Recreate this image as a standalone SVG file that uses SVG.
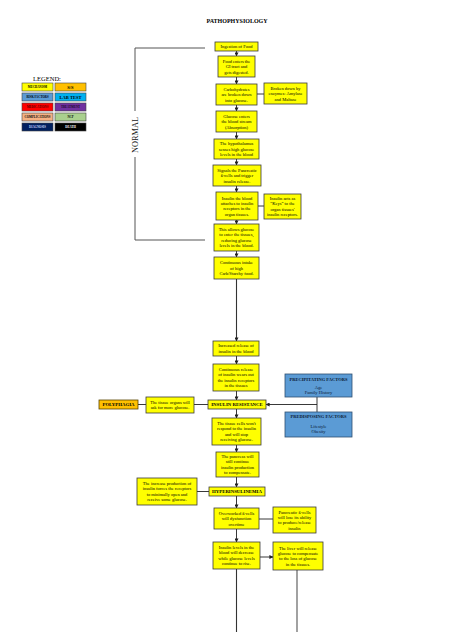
<svg xmlns="http://www.w3.org/2000/svg" width="474" height="632" viewBox="0 0 474 632">
<style>
text{font-family:"Liberation Serif","Times New Roman",serif;fill:#000}
.box rect{fill:#FFFF00;stroke:#3a3a3a;stroke-width:0.8}
.box text{font-size:4.5px;text-anchor:middle}
.blue rect{fill:#5B9BD5;stroke:#2f4f70;stroke-width:0.8}
.blue text{font-size:4.5px;text-anchor:middle;fill:#0b1a33}
.hd{font-weight:bold;font-size:4.6px}
.bold text{font-weight:bold;font-size:4.8px}
.orange rect{fill:#FFC000;stroke:#5a4500;stroke-width:0.8}
.conn line,.conn path{stroke:#222;stroke-width:0.9;fill:none}
.br{stroke:#555;stroke-width:1;fill:none}
.lg rect{stroke:#444;stroke-width:0.6}
.lg text{font-size:3px;font-weight:bold;text-anchor:middle}
</style>
<defs>
<marker id="ah" markerWidth="4" markerHeight="4" refX="3.6" refY="2" orient="auto" markerUnits="userSpaceOnUse">
<path d="M0,0 L4,2 L0,4 Z" fill="#222"/>
</marker>
</defs>

<text x="237" y="23" font-size="6" font-weight="bold" text-anchor="middle">PATHOPHYSIOLOGY</text>

<g id="legend" class="lg">
<text x="47" y="81" font-size="6.5" font-weight="normal" style="font-size:6.5px;font-weight:normal">LEGEND:</text>
<rect x="22" y="83" width="31" height="8" fill="#FFFF00"/><text x="37.5" y="88.2">MECHANISM</text>
<rect x="55" y="83" width="31" height="8" fill="#FFC000"/><text x="70.5" y="88.6" style="font-size:4.5px">S/S</text>
<rect x="22" y="93" width="31" height="8" fill="#5B9BD5"/><text x="37.5" y="98.2">RISK FACTORS</text>
<rect x="55" y="93" width="31" height="8" fill="#00B0F0"/><text x="70.5" y="98.6" style="font-size:4.5px">LAB TEST</text>
<rect x="22" y="103" width="31" height="8" fill="#FF0000"/><text x="37.5" y="108.2" style="fill:#5a0000">MEDICATIONS</text>
<rect x="55" y="103" width="31" height="8" fill="#7030A0"/><text x="70.5" y="108.2" style="fill:#1a0a2a">TREATMENT</text>
<rect x="22" y="113" width="31" height="8" fill="#F4B183"/><text x="37.5" y="118.2">COMPLICATIONS</text>
<rect x="55" y="113" width="31" height="8" fill="#A9D08E"/><text x="70.5" y="118.2">NCP</text>
<rect x="22" y="123" width="31" height="8" fill="#002060"/><text x="37.5" y="128.2" style="fill:#cfd8ff">DIAGNOSIS</text>
<rect x="55" y="123" width="31" height="8" fill="#000000"/><text x="70.5" y="128.2" style="fill:#ffffff">DEATH</text>
</g>

<g id="bracket">
<path class="br" d="M205,48 H135 V111 M135,157 V240 H205"/>
<text x="138" y="135" font-size="8.3" text-anchor="middle" transform="rotate(-90 138 135)" style="fill:#222">NORMAL</text>
</g>

<g id="connectors" class="conn">
<line x1="236.5" y1="51" x2="236.5" y2="56" marker-end="url(#ah)"/>
<line x1="236.5" y1="77" x2="236.5" y2="84" marker-end="url(#ah)"/>
<line x1="257" y1="94" x2="264" y2="94"/>
<line x1="236.5" y1="105" x2="236.5" y2="111" marker-end="url(#ah)"/>
<line x1="236.5" y1="132" x2="236.5" y2="139" marker-end="url(#ah)"/>
<line x1="236.5" y1="159" x2="236.5" y2="165" marker-end="url(#ah)"/>
<line x1="236.5" y1="186" x2="236.5" y2="192" marker-end="url(#ah)"/>
<line x1="258" y1="206" x2="264" y2="206"/>
<line x1="236.5" y1="220" x2="236.5" y2="224" marker-end="url(#ah)"/>
<line x1="236.5" y1="251" x2="236.5" y2="257" marker-end="url(#ah)"/>
<line x1="236.5" y1="279" x2="236.5" y2="341" marker-end="url(#ah)" style="stroke:#333;stroke-width:1.1"/>
<line x1="236.5" y1="356" x2="236.5" y2="364" marker-end="url(#ah)"/>
<line x1="236.5" y1="391" x2="236.5" y2="400" marker-end="url(#ah)"/>
<line x1="317" y1="397" x2="317" y2="412"/>
<line x1="317" y1="404.5" x2="266" y2="404.5" marker-end="url(#ah)"/>
<line x1="208" y1="404.5" x2="194" y2="404.5"/>
<line x1="146" y1="404.5" x2="138" y2="404.5"/>
<line x1="236.5" y1="409" x2="236.5" y2="418" marker-end="url(#ah)"/>
<line x1="236.5" y1="445" x2="236.5" y2="452" marker-end="url(#ah)"/>
<line x1="236.5" y1="477" x2="236.5" y2="487" marker-end="url(#ah)"/>
<line x1="197" y1="491.5" x2="209" y2="491.5"/>
<line x1="236.5" y1="496" x2="236.5" y2="508" marker-end="url(#ah)"/>
<line x1="259" y1="519" x2="273" y2="519"/>
<line x1="236.5" y1="529" x2="236.5" y2="542" marker-end="url(#ah)"/>
<line x1="260" y1="557" x2="273" y2="557" marker-end="url(#ah)"/>
<line x1="236.5" y1="569" x2="236.5" y2="632" style="stroke:#333;stroke-width:1.1"/>
<line x1="297" y1="570" x2="297" y2="632" style="stroke:#555;stroke-width:1.1"/>
</g>

<g id="n1" class="box"><rect x="215" y="42" width="43" height="9"/><text x="236.5" y="48.1">Ingestion of Food</text></g>
<g id="n2" class="box"><rect x="218" y="56" width="37" height="21"/><text x="236.5" y="62.7"><tspan x="236.5">Food enters the</tspan><tspan x="236.5" dy="5.4">GI tract and</tspan><tspan x="236.5" dy="5.4">gets digested.</tspan></text></g>
<g id="n3" class="box"><rect x="216" y="84" width="41" height="21"/><text x="236.5" y="90.7"><tspan x="236.5">Carbohydrates</tspan><tspan x="236.5" dy="5.4">are broken down</tspan><tspan x="236.5" dy="5.4">into glucose.</tspan></text></g>
<g id="s1" class="box"><rect x="264" y="83" width="43" height="21"/><text x="285.5" y="89.7"><tspan x="285.5">Broken down by</tspan><tspan x="285.5" dy="5.4">enzymes: Amylase</tspan><tspan x="285.5" dy="5.4">and Maltase</tspan></text></g>
<g id="n4" class="box"><rect x="216" y="111" width="41" height="21"/><text x="236.5" y="117.7"><tspan x="236.5">Glucose enters</tspan><tspan x="236.5" dy="5.4">the blood stream</tspan><tspan x="236.5" dy="5.4">(Absorption)</tspan></text></g>
<g id="n5" class="box"><rect x="214" y="139" width="45" height="20"/><text x="236.5" y="145.2"><tspan x="236.5">The hypothalamus</tspan><tspan x="236.5" dy="5.4">senses high glucose</tspan><tspan x="236.5" dy="5.4">levels in the blood</tspan></text></g>
<g id="n6" class="box"><rect x="213" y="165" width="48" height="21"/><text x="237" y="171.7"><tspan x="237">Signals the Pancreatic</tspan><tspan x="237" dy="5.4">ß-cells and trigger</tspan><tspan x="237" dy="5.4">insulin release.</tspan></text></g>
<g id="n7" class="box"><rect x="216" y="192" width="42" height="28"/><text x="237" y="199.5"><tspan x="237">Insulin the blood</tspan><tspan x="237" dy="5.4">attaches to insulin</tspan><tspan x="237" dy="5.4">receptors in the</tspan><tspan x="237" dy="5.4">organ tissues.</tspan></text></g>
<g id="s2" class="box"><rect x="264" y="194" width="37" height="25"/><text x="282.5" y="200"><tspan x="282.5">Insulin acts as</tspan><tspan x="282.5" dy="5.4">“Keys” to the</tspan><tspan x="282.5" dy="5.4">organ tissues'</tspan><tspan x="282.5" dy="5.4">insulin receptors.</tspan></text></g>
<g id="n8" class="box"><rect x="214" y="224" width="45" height="27"/><text x="236.5" y="231"><tspan x="236.5">This allows glucose</tspan><tspan x="236.5" dy="5.4">to enter the tissues,</tspan><tspan x="236.5" dy="5.4">reducing glucose</tspan><tspan x="236.5" dy="5.4">levels in the blood.</tspan></text></g>
<g id="n9" class="box"><rect x="214" y="257" width="45" height="22"/><text x="236.5" y="264.2"><tspan x="236.5">Continuous intake</tspan><tspan x="236.5" dy="5.4">of high</tspan><tspan x="236.5" dy="5.4">Carb/Starchy food.</tspan></text></g>
<g id="n10" class="box"><rect x="213" y="341" width="46" height="15"/><text x="236" y="347.4"><tspan x="236">Increased release of</tspan><tspan x="236" dy="5.4">insulin in the blood</tspan></text></g>
<g id="n11" class="box"><rect x="213" y="364" width="46" height="27"/><text x="236" y="371"><tspan x="236">Continuous release</tspan><tspan x="236" dy="5.4">of insulin wears out</tspan><tspan x="236" dy="5.4">the insulin receptors</tspan><tspan x="236" dy="5.4">in the tissues</tspan></text></g>
<g id="precip" class="blue"><rect x="285" y="374" width="67" height="23"/><text x="318.5" y="381" class="hd">PRECIPITATING FACTORS</text><text x="318.5" y="388.5">Age</text><text x="318.5" y="393.5">Family History</text></g>
<g id="predisp" class="blue"><rect x="285" y="412" width="67" height="25"/><text x="318.5" y="418" class="hd">PREDISPOSING FACTORS</text><text x="318.5" y="427.5">Lifestyle</text><text x="318.5" y="432.5">Obesity</text></g>
<g id="ir" class="box bold"><rect x="208" y="400" width="58" height="9"/><text x="237" y="406.3">INSULIN RESISTANCE</text></g>
<g id="tissue" class="box"><rect x="146" y="397" width="48" height="16"/><text x="170" y="403.9"><tspan x="170">The tissue organs will</tspan><tspan x="170" dy="5.4">ask for more glucose.</tspan></text></g>
<g id="poly" class="box bold orange"><rect x="99" y="400" width="39" height="9"/><text x="118.5" y="406.3">POLYPHAGIA</text></g>
<g id="n12" class="box"><rect x="212" y="418" width="49" height="27"/><text x="236.5" y="425"><tspan x="236.5">The tissue cells won't</tspan><tspan x="236.5" dy="5.4">respond to the insulin</tspan><tspan x="236.5" dy="5.4">and will stop</tspan><tspan x="236.5" dy="5.4">receiving glucose.</tspan></text></g>
<g id="n13" class="box"><rect x="216" y="452" width="43" height="25"/><text x="237.5" y="458"><tspan x="237.5">The pancreas will</tspan><tspan x="237.5" dy="5.4">still continue</tspan><tspan x="237.5" dy="5.4">insulin production</tspan><tspan x="237.5" dy="5.4">to compensate.</tspan></text></g>
<g id="hyper" class="box bold"><rect x="209" y="487" width="56" height="9"/><text x="237" y="493.3">HYPERINSULINEMIA</text></g>
<g id="forces" class="box"><rect x="137" y="478" width="60" height="27"/><text x="167" y="485"><tspan x="167">The increase production of</tspan><tspan x="167" dy="5.4">insulin forces the receptors</tspan><tspan x="167" dy="5.4">to minimally open and</tspan><tspan x="167" dy="5.4">receive some glucose.</tspan></text></g>
<g id="n14" class="box"><rect x="214" y="508" width="45" height="21"/><text x="236.5" y="514.7"><tspan x="236.5">Overworked ß-cells</tspan><tspan x="236.5" dy="5.4">will dysfunction</tspan><tspan x="236.5" dy="5.4">overtime</tspan></text></g>
<g id="s3" class="box"><rect x="273" y="507" width="43" height="26"/><text x="294.5" y="513.5"><tspan x="294.5">Pancreatic ß-cells</tspan><tspan x="294.5" dy="5.4">will lose its ability</tspan><tspan x="294.5" dy="5.4">to produce/release</tspan><tspan x="294.5" dy="5.4">insulin</tspan></text></g>
<g id="n15" class="box"><rect x="213" y="542" width="47" height="27"/><text x="236.5" y="549"><tspan x="236.5">Insulin levels in the</tspan><tspan x="236.5" dy="5.4">blood will decrease</tspan><tspan x="236.5" dy="5.4">while glucose levels</tspan><tspan x="236.5" dy="5.4">continue to rise.</tspan></text></g>
<g id="n16" class="box"><rect x="273" y="542" width="50" height="28"/><text x="298" y="549.5"><tspan x="298">The liver will release</tspan><tspan x="298" dy="5.4">glucose to compensate</tspan><tspan x="298" dy="5.4">to the loss of glucose</tspan><tspan x="298" dy="5.4">in the tissues.</tspan></text></g>
</svg>
